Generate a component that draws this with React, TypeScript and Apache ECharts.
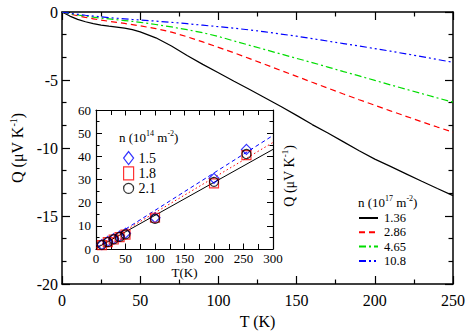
import React, { useEffect, useRef } from "react";
import * as echarts from "echarts";

// Main panel: thermopower Q (μV/K) vs T (K) for four densities n (10^17 m^-2)
const mainT = [0, 5, 10, 15, 20, 25, 30, 35, 40, 45, 50, 60, 70, 80, 90, 100, 110, 120, 130, 140, 150, 160, 170, 180, 190, 200, 210, 220, 230, 240, 250];
const q136 = [0, -0.3, -0.54, -0.72, -0.86, -0.96, -1.04, -1.11, -1.19, -1.3, -1.46, -1.9, -2.5, -3.2, -3.85, -4.47, -5.09, -5.7, -6.32, -6.95, -7.6, -8.28, -8.9, -9.55, -10.2, -10.82, -11.35, -11.9, -12.45, -12.98, -13.5];
const q286 = [0, -0.15, -0.28, -0.4, -0.5, -0.6, -0.68, -0.76, -0.84, -0.93, -1.02, -1.22, -1.48, -1.82, -2.2, -2.6, -3.0, -3.43, -3.86, -4.3, -4.73, -5.17, -5.6, -6.03, -6.45, -6.86, -7.27, -7.67, -8.07, -8.46, -8.84];
const q465 = [0, -0.12, -0.22, -0.3, -0.38, -0.45, -0.51, -0.57, -0.63, -0.69, -0.76, -0.92, -1.1, -1.3, -1.52, -1.8, -2.13, -2.45, -2.77, -3.09, -3.41, -3.72, -4.05, -4.38, -4.7, -5.03, -5.36, -5.68, -6.0, -6.32, -6.63];
const q108 = [0, -0.09, -0.17, -0.24, -0.3, -0.36, -0.41, -0.46, -0.5, -0.55, -0.59, -0.67, -0.76, -0.86, -0.97, -1.08, -1.19, -1.32, -1.46, -1.62, -1.78, -1.96, -2.14, -2.32, -2.5, -2.69, -2.88, -3.08, -3.28, -3.49, -3.7];
const mainNames = ["1.36", "2.86", "4.65", "10.8"];

// Inset: Q vs T for three densities n (10^14 m^-2)
const insetT = [10, 20, 30, 40, 50, 100, 200, 255];
const n15 = [1.9, 3.3, 4.5, 5.6, 6.8, 13.5, 30.5, 43];
const n18 = [1.7, 3.0, 4.1, 5.1, 6.2, 13.5, 28.3, 40.5];
const n21 = [1.8, 3.0, 4.2, 5.2, 6.3, 13.0, 29.0, 41];
const insetNames = ["1.5", "1.8", "2.1"];
const fitT = [0, 300];
const fit15 = [0.5, 49];
const fit18 = [0.5, 46];
const fit21 = [0.3, 43];

const FONT = "Liberation Serif, serif";

const pair = (xs: number[], ys: number[]) => xs.map((x, i) => [x, ys[i]]);

function richSup(size: number, supSize: number) {
  return {
    a: { fontFamily: FONT, fontSize: size, color: "#000", lineHeight: size + 3, verticalAlign: "middle" },
    s: { fontFamily: FONT, fontSize: supSize, color: "#000", lineHeight: supSize, verticalAlign: "top" },
  };
}

export default function App() {
  const ref = useRef<HTMLDivElement>(null);
  useEffect(() => {
    if (!ref.current) return;
    const chart = echarts.init(ref.current, undefined, { renderer: "svg" });
    const axLine = (w: number) => ({ show: true, onZero: false, lineStyle: { color: "#000", width: w } });
    const mainTick = { show: true, inside: true, length: 8, lineStyle: { color: "#000", width: 1.2 } };
    const insetTick = { show: true, inside: true, length: 5.5, lineStyle: { color: "#000", width: 1 } };

    const option: any = {
      animation: false,
      backgroundColor: "#fff",
      textStyle: { fontFamily: FONT },
      grid: [
        { left: 56, top: 12, width: 397, height: 276, show: false },
        { left: 96, top: 110, width: 177, height: 139, show: true, backgroundColor: "#fff", borderWidth: 0, z: 5 },
      ],
      xAxis: [
        {
          gridIndex: 0, type: "value", min: 0, max: 250, interval: 50, position: "bottom",
          axisLine: axLine(1.5), axisTick: mainTick,
          minorTick: { show: true, splitNumber: 2, length: 4.5, lineStyle: { color: "#000", width: 1.2 } },
          splitLine: { show: false },
          axisLabel: { margin: 8, fontFamily: FONT, fontSize: 16, color: "#000" },
          name: "T (K)", nameLocation: "middle", nameGap: 29,
          nameTextStyle: { fontFamily: FONT, fontSize: 16, color: "#000" },
        },
        {
          gridIndex: 0, type: "value", min: 0, max: 250, interval: 50, position: "top",
          axisLine: axLine(1.5), axisTick: mainTick,
          minorTick: { show: true, splitNumber: 2, length: 4.5, lineStyle: { color: "#000", width: 1.2 } },
          splitLine: { show: false }, axisLabel: { show: false },
        },
        {
          gridIndex: 1, type: "value", min: 0, max: 300, interval: 50, position: "bottom",
          axisLine: axLine(1.2), axisTick: insetTick,
          minorTick: { show: true, splitNumber: 2, length: 5, lineStyle: { color: "#000", width: 1 } },
          splitLine: { show: false },
          axisLabel: { margin: 3, fontFamily: FONT, fontSize: 13, color: "#000" },
          name: "T(K)", nameLocation: "middle", nameGap: 17,
          nameTextStyle: { fontFamily: FONT, fontSize: 13, color: "#000" },
          z: 6,
        },
        {
          gridIndex: 1, type: "value", min: 0, max: 300, interval: 50, position: "top",
          axisLine: axLine(1.2), axisTick: insetTick,
          minorTick: { show: true, splitNumber: 2, length: 5, lineStyle: { color: "#000", width: 1 } },
          splitLine: { show: false }, axisLabel: { show: false }, z: 6,
        },
      ],
      yAxis: [
        {
          gridIndex: 0, type: "value", min: -20, max: 0, interval: 5, position: "left",
          axisLine: axLine(1.5), axisTick: mainTick,
          minorTick: { show: true, splitNumber: 3, length: 4.5, lineStyle: { color: "#000", width: 1.2 } },
          splitLine: { show: false },
          axisLabel: { margin: 4, fontFamily: FONT, fontSize: 16, color: "#000" },
          name: "{a|Q (μV K}{s|-1}{a|)}", nameLocation: "middle", nameGap: 35, nameRotate: 90,
          nameTextStyle: { rich: richSup(16, 10) },
        },
        {
          gridIndex: 0, type: "value", min: -20, max: 0, interval: 5, position: "right",
          axisLine: axLine(1.5), axisTick: mainTick,
          minorTick: { show: true, splitNumber: 3, length: 4.5, lineStyle: { color: "#000", width: 1.2 } },
          splitLine: { show: false }, axisLabel: { show: false },
        },
        {
          gridIndex: 1, type: "value", min: 0, max: 60, interval: 10, position: "left",
          axisLine: axLine(1.2), axisTick: { ...insetTick, length: 6 },
          minorTick: { show: true, splitNumber: 2, length: 3.5, lineStyle: { color: "#000", width: 1 } },
          splitLine: { show: false },
          axisLabel: { margin: 5, fontFamily: FONT, fontSize: 13, color: "#000" }, z: 6,
        },
        {
          gridIndex: 1, type: "value", min: 0, max: 60, interval: 10, position: "right",
          axisLine: axLine(1.2), axisTick: { ...insetTick, length: 6 },
          minorTick: { show: true, splitNumber: 2, length: 3.5, lineStyle: { color: "#000", width: 1 } },
          splitLine: { show: false }, axisLabel: { show: false }, z: 6,
        },
      ],
      legend: [
        {
          data: mainNames, orient: "vertical", left: 358, top: 211.5, padding: 0,
          itemWidth: 19, itemHeight: 12, itemGap: 1.3, selectedMode: false,
          itemStyle: { color: "rgba(0,0,0,0)", borderWidth: 0, borderColor: "rgba(0,0,0,0)" },
          textStyle: { fontFamily: FONT, fontSize: 12.5, lineHeight: 12, color: "#000", padding: [0, 0, 0, 1] },
        },
        {
          data: insetNames, orient: "vertical", left: 123, top: 151, padding: 0,
          itemWidth: 10, itemHeight: 13, itemGap: 1, selectedMode: false,
          itemStyle: { borderWidth: 1.2 },
          textStyle: { fontFamily: FONT, fontSize: 14, lineHeight: 13, color: "#000" },
          z: 10,
        },
      ],
      graphic: [
        {
          type: "text", left: 358, top: 194, z: 10,
          style: { text: "{a|n (10}{s|17}{a| m}{s|-2}{a|)}", rich: richSup(13, 8) },
        },
        {
          type: "text", left: 119, top: 129, z: 10,
          style: { text: "{a|n (10}{s|14}{a| m}{s|-2}{a|)}", rich: richSup(13, 8) },
        },
        {
          type: "text", x: 289, y: 176, rotation: Math.PI / 2, z: 10,
          style: { text: "{a|Q (μV K}{s|-1}{a|)}", rich: richSup(14, 9), align: "center", verticalAlign: "middle" },
        },
      ],
      series: [
        { name: mainNames[0], type: "line", xAxisIndex: 0, yAxisIndex: 0, data: pair(mainT, q136), symbol: "none", lineStyle: { color: "#000", width: 1.2, type: "solid" }, itemStyle: { color: "#000" } },
        { name: mainNames[1], type: "line", xAxisIndex: 0, yAxisIndex: 0, data: pair(mainT, q286), symbol: "none", lineStyle: { color: "#ff0000", width: 1.2, type: [6, 4] }, itemStyle: { color: "#ff0000" } },
        { name: mainNames[2], type: "line", xAxisIndex: 0, yAxisIndex: 0, data: pair(mainT, q465), symbol: "none", lineStyle: { color: "#00dd00", width: 1.2, type: [7, 3, 2, 3] }, itemStyle: { color: "#00dd00" } },
        { name: mainNames[3], type: "line", xAxisIndex: 0, yAxisIndex: 0, data: pair(mainT, q108), symbol: "none", lineStyle: { color: "#0000ff", width: 1.2, type: [7, 3, 2, 3, 2, 3] }, itemStyle: { color: "#0000ff" } },

        { name: "fit15", type: "line", xAxisIndex: 2, yAxisIndex: 2, data: pair(fitT, fit15), symbol: "none", lineStyle: { color: "#0000ff", width: 1, type: [4, 3] }, z: 6 },
        { name: "fit18", type: "line", xAxisIndex: 2, yAxisIndex: 2, data: pair(fitT, fit18), symbol: "none", lineStyle: { color: "#ff0000", width: 1, type: [1.5, 2.5] }, z: 6 },
        { name: "fit21", type: "line", xAxisIndex: 2, yAxisIndex: 2, data: pair(fitT, fit21), symbol: "none", lineStyle: { color: "#000", width: 1, type: "solid" }, z: 6 },

        { name: insetNames[0], type: "scatter", xAxisIndex: 2, yAxisIndex: 2, data: pair(insetT, n15), symbol: "diamond", symbolSize: 10, itemStyle: { color: "rgba(255,255,255,0)", borderColor: "#0000ff", borderWidth: 1.2 }, z: 7 },
        { name: insetNames[1], type: "scatter", xAxisIndex: 2, yAxisIndex: 2, data: pair(insetT, n18), symbol: "rect", symbolSize: 9, itemStyle: { color: "rgba(255,255,255,0)", borderColor: "#ff0000", borderWidth: 1.2 }, z: 7 },
        { name: insetNames[2], type: "scatter", xAxisIndex: 2, yAxisIndex: 2, data: pair(insetT, n21), symbol: "circle", symbolSize: 9, itemStyle: { color: "rgba(255,255,255,0)", borderColor: "#000", borderWidth: 1.2 }, z: 7 },
      ],
    };
    chart.setOption(option);
    return () => chart.dispose();
  }, []);
  return <div ref={ref} style={{ position: "fixed", left: 0, top: 0, width: 474, height: 334 }} />;
}
